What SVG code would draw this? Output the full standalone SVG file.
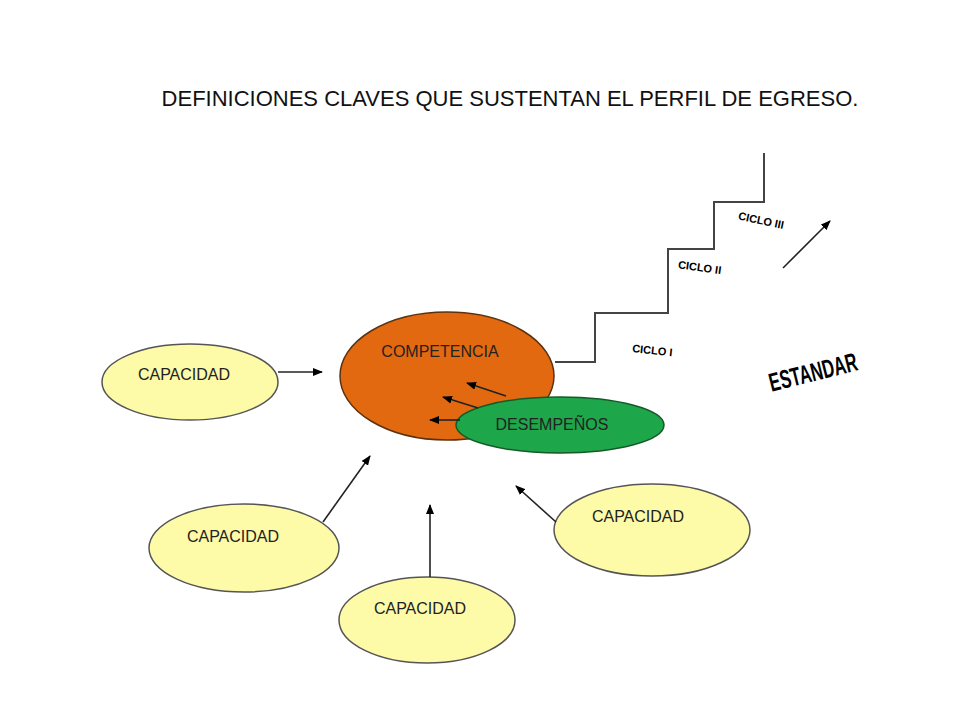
<svg xmlns="http://www.w3.org/2000/svg" width="960" height="720" viewBox="0 0 960 720">
<defs>
<marker id="ah" markerWidth="10" markerHeight="8" refX="9" refY="4" orient="auto" markerUnits="userSpaceOnUse"><path d="M0,0 L10,4 L0,8 Z" fill="#000"/></marker>
<style>
.cap{fill:#fdfaa8;stroke:#555;stroke-width:1.5}
.t{font-family:"Comic Sans MS","Liberation Sans",sans-serif;font-size:16px;fill:#222;text-anchor:middle}
.c{stroke:#222;stroke-width:1.6;fill:none;marker-end:url(#ah)}
.cy{font-family:"Liberation Sans",sans-serif;font-weight:900;font-size:11px;fill:#000}
</style>
</defs>
<rect width="960" height="720" fill="#fff"/>
<text x="510" y="106" font-family="Liberation Sans,sans-serif" font-size="22" fill="#111" text-anchor="middle">DEFINICIONES CLAVES QUE SUSTENTAN EL PERFIL DE EGRESO.</text>
<path d="M555,362 H595 V313 H668 V249 H714 V202 H764 V153" fill="none" stroke="#444" stroke-width="2"/>
<g id="competencia"><ellipse cx="447" cy="376" rx="107" ry="64" fill="#e2690f" stroke="#5a3210" stroke-width="1.5"/><text class="t" x="440" y="357" fill="#3a1a05">COMPETENCIA</text></g>
<g id="desempenos"><ellipse cx="560" cy="425" rx="104" ry="28" fill="#1ea64a" stroke="#145a28" stroke-width="1.5"/><text class="t" x="552" y="430">DESEMPEÑOS</text></g>
<g id="cap1"><ellipse class="cap" cx="190" cy="382" rx="88" ry="38"/><text class="t" x="184" y="380">CAPACIDAD</text></g>
<g id="cap2"><ellipse class="cap" cx="244" cy="548" rx="95" ry="44"/><text class="t" x="233" y="542">CAPACIDAD</text></g>
<g id="cap3"><ellipse class="cap" cx="427" cy="620" rx="88" ry="43"/><text class="t" x="420" y="614">CAPACIDAD</text></g>
<g id="cap4"><ellipse class="cap" cx="652" cy="530" rx="98" ry="46"/><text class="t" x="638" y="522">CAPACIDAD</text></g>
<g id="connectors">
<line class="c" x1="278" y1="372" x2="322" y2="372"/>
<line class="c" x1="323" y1="522" x2="370" y2="456"/>
<line class="c" x1="430" y1="577" x2="430" y2="505"/>
<line class="c" x1="556" y1="522" x2="516" y2="486"/>
<line class="c" x1="506" y1="396" x2="467" y2="383"/>
<line class="c" x1="478" y1="408" x2="443" y2="397"/>
<line class="c" x1="460" y1="420" x2="430" y2="420"/>
<line class="c" x1="783" y1="268" x2="830" y2="221"/>
</g>
<text class="cy" x="632" y="354" transform="rotate(6 650 352)">CICLO I</text>
<text class="cy" x="678" y="272" transform="rotate(8 705 268)">CICLO II</text>
<text class="cy" x="738" y="224" transform="rotate(12 760 220)">CICLO III</text>
<text x="765" y="382" font-family="Liberation Sans,sans-serif" font-weight="900" font-size="26" fill="#000" transform="rotate(-14 808 360)" textLength="90" lengthAdjust="spacingAndGlyphs">ESTANDAR</text>
</svg>
